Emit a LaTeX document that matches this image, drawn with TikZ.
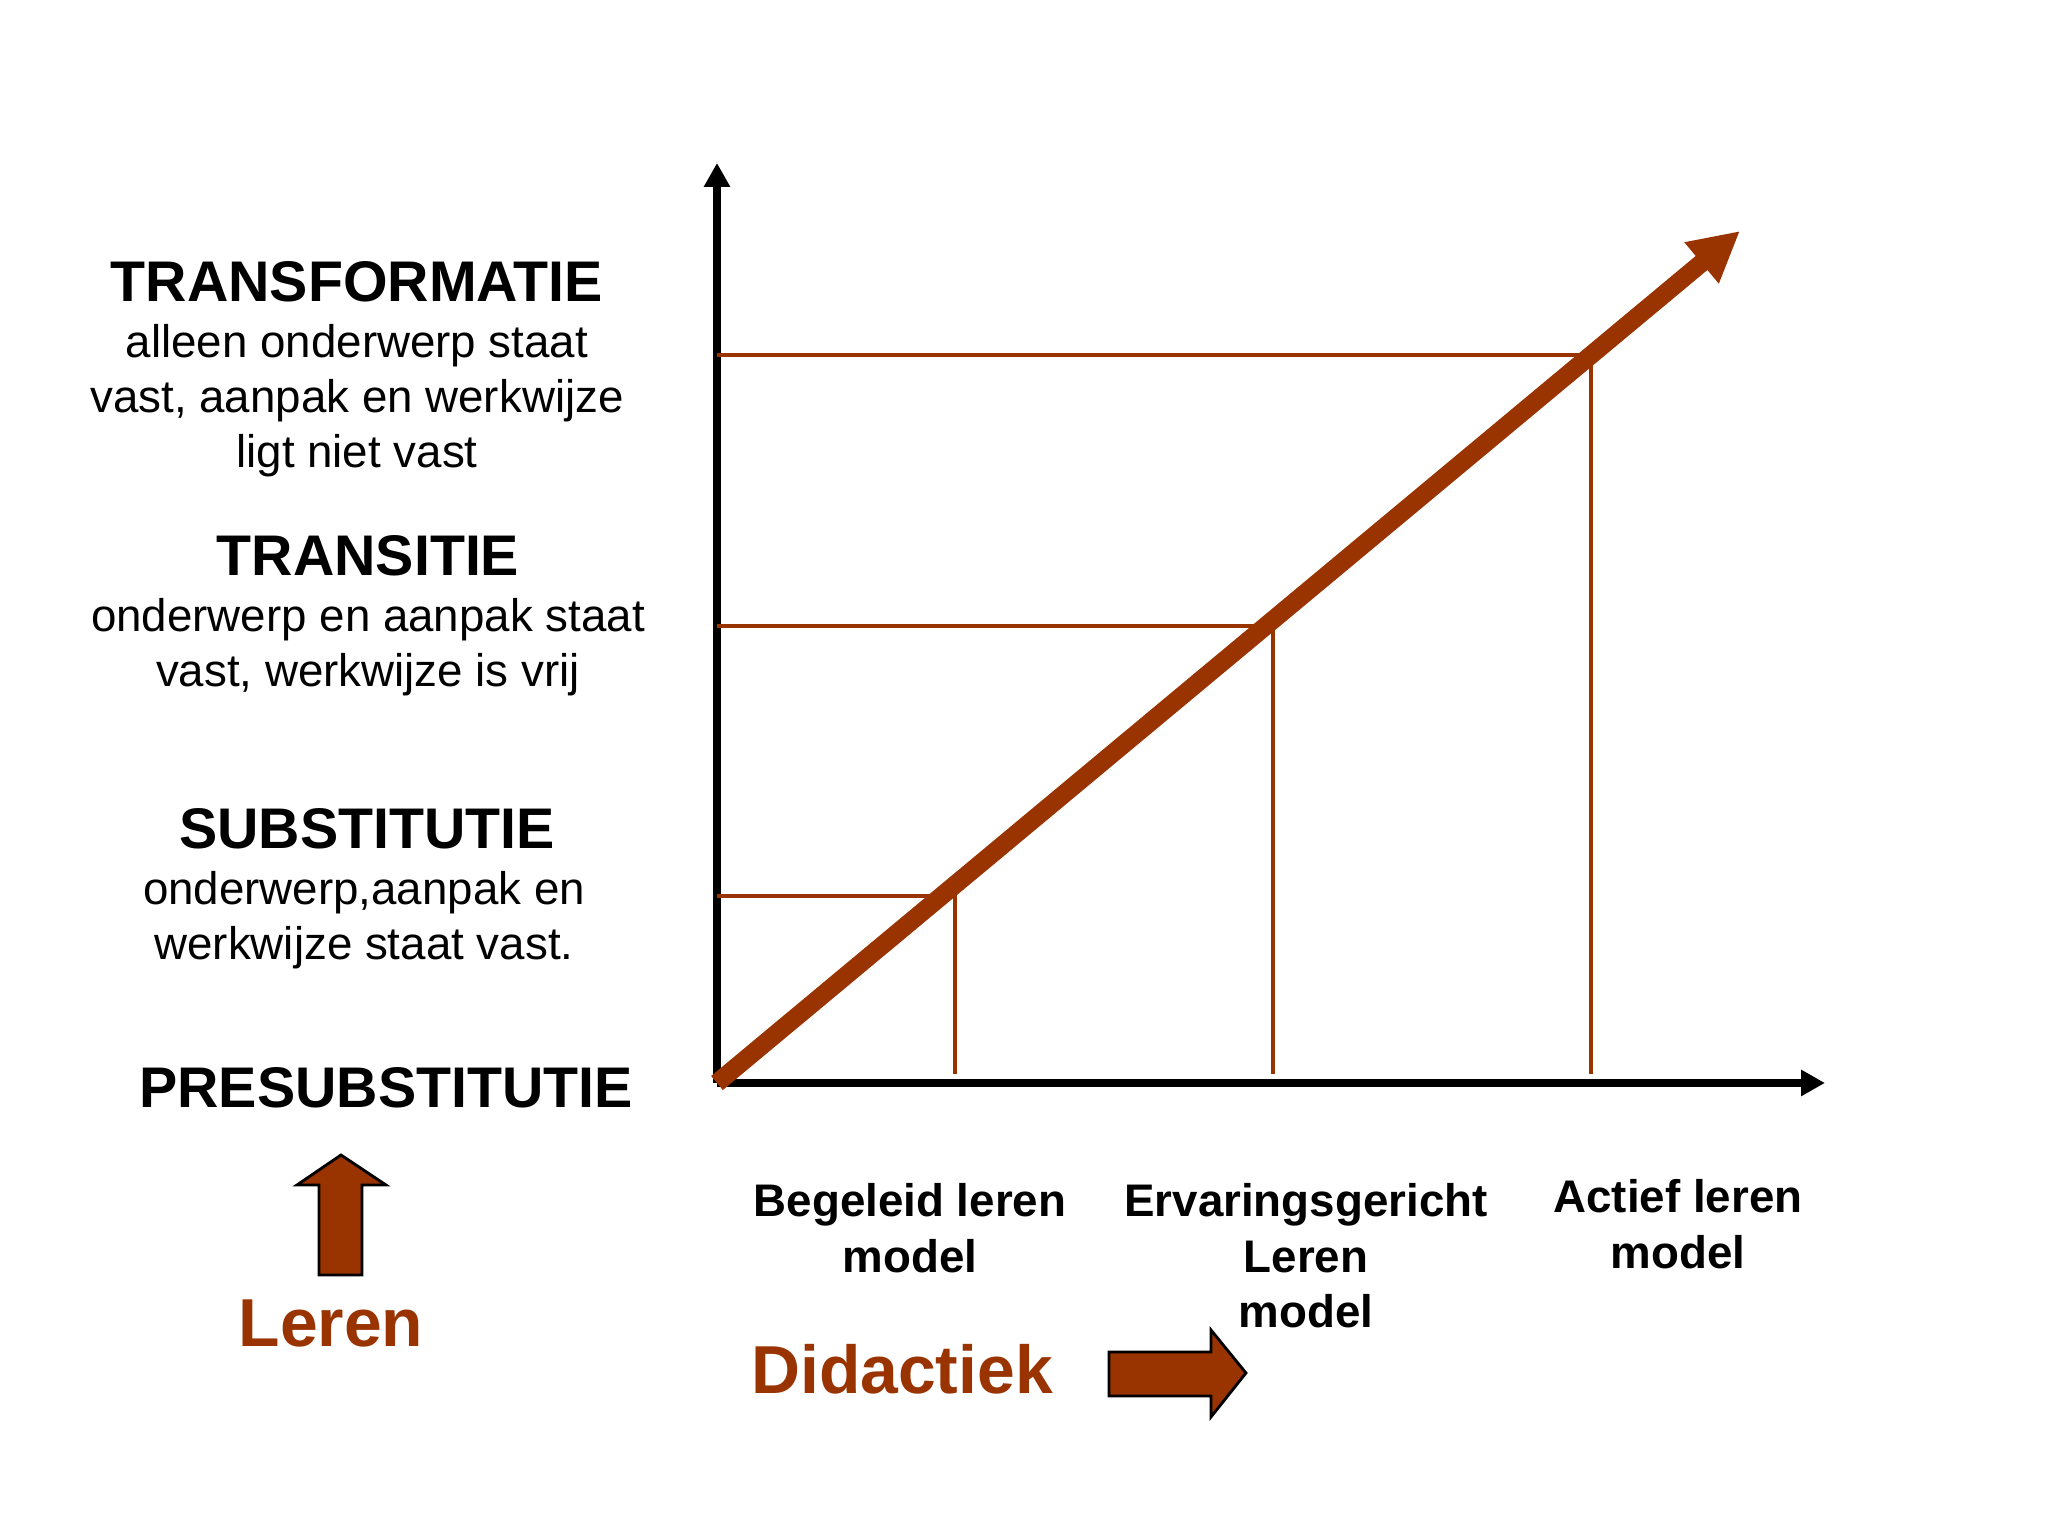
\documentclass[tikz,border=0pt]{standalone}
\usepackage{fontspec}
\setmainfont{Liberation Sans}
\usetikzlibrary{arrows.meta,positioning}
\definecolor{roest}{HTML}{993300}

\begin{document}
\begin{tikzpicture}[
  niveau/.style={font=\fontsize{16.3}{19}\selectfont\bfseries,inner sep=0pt},
  uitleg/.style={font=\fontsize{13}{15.6}\selectfont,align=center,inner sep=0pt},
  model/.style={font=\fontsize{13}{15.8}\selectfont\bfseries,align=center,inner sep=0pt},
  kop/.style={font=\fontsize{19.3}{23}\selectfont\bfseries,text=roest,inner sep=0pt},
  as/.style={line width=2.4pt,-{Triangle[length=2.4mm,width=2.5mm]}},
  hulplijn/.style={draw=roest,line width=1pt},
  groei/.style={draw=roest,line width=5.2pt,-{Triangle[length=5mm,width=5mm]}},
  blokpijl/.style={fill=roest,draw=black,line width=0.8pt,line join=miter}]

  \useasboundingbox[fill=white] (0,0) rectangle (20.48,15.36);

  % assen
  \coordinate (O) at (7.17,4.53);
  \coordinate (ytop) at (7.17,13.73);
  \coordinate (xend) at (18.25,4.53);
  \coordinate (top) at (17.40,13.05);
  \draw[as] (O) -- (ytop);
  \draw[as] (O) -- (xend);

  % hulplijnen naar de modellen
  \coordinate (h1) at (7.17,6.40);
  \coordinate (h2) at (7.17,9.10);
  \coordinate (h3) at (7.17,11.81);
  \coordinate (v1) at (9.55,4.62);
  \coordinate (v2) at (12.73,4.62);
  \coordinate (v3) at (15.91,4.62);
  \draw[hulplijn] (h1) -| (v1);
  \draw[hulplijn] (h2) -| (v2);
  \draw[hulplijn] (h3) -| (v3);

  \draw[groei] (O) -- (top);

  % niveaus links
  \node[niveau] (transf) at (3.57,12.54) {TRANSFORMATIE};
  \node[uitleg] (transfuit) [below=0.21cm of transf] {alleen onderwerp staat\\vast, aanpak en werkwijze\\ligt niet vast};
  \node[niveau] (trans) at (3.68,9.80) {TRANSITIE};
  \node[uitleg] (transuit) [below=0.21cm of trans] {onderwerp en aanpak staat\\vast, werkwijze is vrij};
  \node[niveau] (subst) at (3.67,7.07) {SUBSTITUTIE};
  \node[uitleg] (substuit) [below=0.21cm of subst, xshift=-0.03cm] {onderwerp,aanpak en\\werkwijze staat vast.};
  \node[niveau] (presubst) at (3.86,4.48) {PRESUBSTITUTIE};

  % modellen onder de as
  \node[model] (begeleid) at (9.10,3.08) {Begeleid leren\\model};
  \node[model] (ervaring) at (13.06,2.80) {Ervaringsgericht\\Leren\\model};
  \node[model] (actief) at (16.78,3.12) {Actief leren\\model};

  % blokpijlen
  \filldraw[blokpijl] (3.19,2.61) -- (3.19,3.51) -- (2.97,3.51) -- (3.41,3.81)
    -- (3.86,3.51) -- (3.62,3.51) -- (3.62,2.61) -- cycle;
  \filldraw[blokpijl] (11.09,1.40) -- (12.11,1.40) -- (12.11,1.19) -- (12.46,1.63)
    -- (12.11,2.06) -- (12.11,1.84) -- (11.09,1.84) -- cycle;

  \node[kop] (leren) at (3.31,2.12) {Leren};
  \node[kop] (didactiek) at (9.02,1.67) {Didactiek};
\end{tikzpicture}
\end{document}
